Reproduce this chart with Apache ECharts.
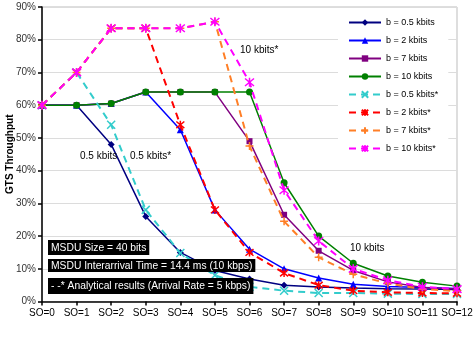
<!DOCTYPE html>
<html>
<head>
<meta charset="utf-8">
<script src="https://cdn.jsdelivr.net/npm/echarts@6/dist/echarts.min.js"></script>
<style>
html,body{margin:0;padding:0;background:#fff;}
#c{width:474px;height:338px;}
</style>
</head>
<body>
<div id="c"></div>
<script>
const categories = ['SO=0','SO=1','SO=2','SO=3','SO=4','SO=5','SO=6','SO=7','SO=8','SO=9','SO=10','SO=11','SO=12'];
const yTicks = [0,10,20,30,40,50,60,70,80,90];

const b05  = [60, 60, 48,   26,   15,   9.5,  6.9, 5.0,  4.4,  4.1,  3.9, 3.8, 3.7];
const b2   = [60, 60, 60.5, 64,   52.5, 28,   16,  10,   7.2,  5.3,  4.6, 4.3, 4.0];
const b7   = [60, 60, 60.5, 64,   64,   64,   49,  26.5, 15.5, 9.5,  6.0, 4.3, 3.8];
const b10  = [60, 60, 60.5, 64,   64,   64,   64,  36.3, 20,   11.7, 7.8, 5.9, 4.7];
const b05a = [60, 70, 54,   28,   14.8, 8,    4.5, 3.3,  2.6,  2.6,  2.4, 2.3, 2.3];
const b2a  = [60, 70, 83.5, 83.5, 54,   28,   15,  8.7,  5.0,  3.3,  2.8, 2.6, 2.5];
const b7a  = [60, 70, 83.5, 83.5, 83.5, 85.5, 47.5,24.5, 13.5, 8.3,  5.5, 3.8, 3.2];
const b10a = [60, 70, 83.5, 83.5, 83.5, 85.5, 67,  34,   18.5, 10,   6.5, 4.5, 3.8];

const seriesNames = ['b = 0.5 kbits','b = 2 kbits','b = 7 kbits','b = 10 kbits','b = 0.5 kbits*','b = 2 kbits*','b = 7 kbits*','b = 10 kbits*'];
const seriesData = [b05, b2, b7, b10, b05a, b2a, b7a, b10a];

const colors = ['#000080','#0000FF','#800080','#008000','#33CCCC','#FF0000','#FF7F27','#FF00FF'];
const X = 'path://M0,0L10,10M10,0L0,10';
const PLUS = 'path://M5,0L5,10M0,5L10,5';
const STAR = 'path://M0,0L10,10M10,0L0,10M5,-1L5,11';
const symbols = ['diamond','triangle','rect','circle',X,STAR,PLUS,STAR];
const symSizes = [7,7,6,7,8,8,8,9];
const dashed = [false,false,false,false,true,true,true,true];

const FONT = 'Liberation Sans';

const series = seriesNames.map((n,i)=>{
  const stroke = dashed[i];
  return {
    name: n,
    type: 'line',
    data: seriesData[i],
    symbol: symbols[i],
    symbolSize: symSizes[i],
    showAllSymbol: true,
    animation: false,
    lineStyle: {color: colors[i], width: stroke ? 2 : 1.5, type: stroke ? [7,5] : 'solid'},
    itemStyle: stroke
      ? {color: colors[i], borderColor: colors[i], borderWidth: 1.5}
      : {color: colors[i], borderColor: colors[i], borderWidth: 0},
    z: 2 + i
  };
});

const chart = echarts.init(document.getElementById('c'), null, {renderer:'canvas'});
chart.setOption({
  backgroundColor: '#fff',
  animation: false,
  textStyle: {fontFamily: FONT},
  grid: {left: 42, right: 17, top: 7, bottom: 36.5, containLabel: false, outerBoundsMode: 'none',
    show: true, borderColor: '#bdbdbd', borderWidth: 1, backgroundColor: 'transparent'},
  legend: {
    orient: 'vertical',
    left: 338,
    top: 15,
    width: 108,
    itemWidth: 32,
    itemHeight: 8,
    itemGap: 9,
    padding: [3, 10, 6, 10],
    backgroundColor: '#fff',
    textStyle: {fontSize: 9, color: '#000', fontFamily: FONT},
    data: seriesNames
  },
  xAxis: {
    type: 'category',
    data: categories,
    boundaryGap: false,
    axisLine: {lineStyle: {color: '#000', width: 1.5}},
    axisTick: {show: true, length: 4, inside: false, lineStyle: {color: '#000', width: 1.5}},
    axisLabel: {fontSize: 10, color: '#000', margin: 7, fontFamily: FONT, interval: 0},
    splitLine: {show: false}
  },
  yAxis: {
    type: 'value',
    min: 0, max: 90, interval: 10,
    name: 'GTS Throughput',
    nameLocation: 'middle',
    nameGap: 27,
    nameMoveOverlap: false,
    nameTextStyle: {fontSize: 10, fontWeight: 'bold', color: '#000', fontFamily: FONT},
    axisLine: {show: true, lineStyle: {color: '#000', width: 1.5}},
    axisTick: {show: true, length: 4, inside: false, lineStyle: {color: '#000', width: 1.5}},
    axisLabel: {fontSize: 10, color: '#333', margin: 6, fontFamily: FONT,
      formatter: v => (yTicks.indexOf(v) >= 0 ? v + '%' : '')},
    splitLine: {show: true, lineStyle: {color: '#dcdcdc', width: 1}}
  },
  graphic: [
    {type:'text', left: 80, top: 151, z: 50, style:{text:'0.5 kbits', fontSize: 10, fill:'#000', fontFamily: FONT}},
    {type:'text', left: 130, top: 151, z: 50, style:{text:'0.5 kbits*', fontSize: 10, fill:'#000', fontFamily: FONT}},
    {type:'text', left: 240, top: 45, z: 50, style:{text:'10 kbits*', fontSize: 10, fill:'#000', fontFamily: FONT}},
    {type:'text', left: 350, top: 243, z: 50, style:{text:'10 kbits', fontSize: 10, fill:'#000', fontFamily: FONT}},
    {type:'text', left: 48, top: 240, z: 60, style:{text:'MSDU Size = 40 bits', fontSize: 10.3, fill:'#fff', backgroundColor:'#000', padding:[3,3,2,3], fontFamily: FONT}},
    {type:'text', left: 48, top: 259, z: 60, style:{text:'MSDU Interarrival Time = 14.4 ms (10 kbps)', fontSize: 10.3, fill:'#fff', backgroundColor:'#000', padding:[2,3,1,3], fontFamily: FONT}},
    {type:'text', left: 48, top: 278, z: 60, style:{text:'- -* Analytical results (Arrival Rate = 5 kbps)', fontSize: 10.3, fill:'#fff', backgroundColor:'#000', padding:[3,3,3,3], fontFamily: FONT}}
  ],
  series: series
});
</script>
</body>
</html>
